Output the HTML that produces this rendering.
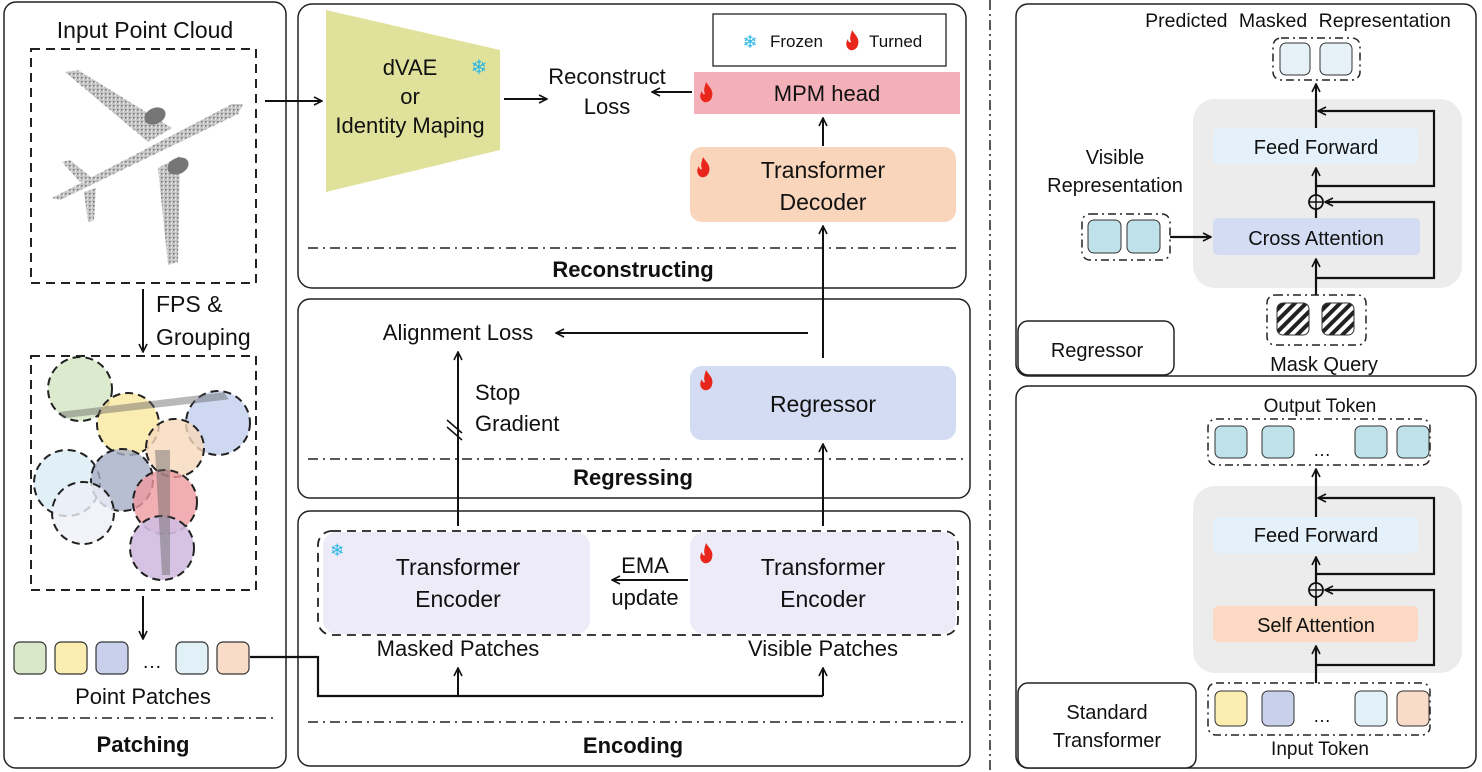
<!DOCTYPE html>
<html><head><meta charset="utf-8"><style>
html,body{margin:0;padding:0;background:#fff;}
svg{display:block;font-family:"Liberation Sans",sans-serif;}
</style></head><body>
<svg width="1482" height="772" viewBox="0 0 1482 772" xmlns="http://www.w3.org/2000/svg">
<defs>
<marker id="ah" markerWidth="10" markerHeight="10" refX="9" refY="5" orient="auto" markerUnits="userSpaceOnUse">
<path d="M1,1 L9,5 L1,9" fill="none" stroke="#111" stroke-width="1.6"/>
</marker>
<pattern id="hatch" width="8" height="8" patternUnits="userSpaceOnUse" patternTransform="rotate(45)">
<rect width="8" height="8" fill="#fff"/><rect width="4" height="8" fill="#222"/>
</pattern>
<pattern id="stip" width="4" height="4" patternUnits="userSpaceOnUse">
<rect width="4" height="4" fill="#b8b8b8"/><rect x="1" y="1" width="1.5" height="1.5" fill="#555"/><rect x="3" y="2.5" width="1" height="1" fill="#fff"/>
</pattern>
<g id="flame"><path d="M6,0 C9,5 14,8 12,15 C11,19 7,21 4,20 C0,18 -1,13 2,9 C2,12 4,13 5,12 C3,8 5,4 6,0Z" fill="#e8261c"/></g>
</defs>
<g fill="none" stroke="#222" stroke-width="1.5">
<rect x="4" y="2" width="282" height="766" rx="12"/>
<rect x="298" y="4" width="668" height="284" rx="14"/>
<rect x="298" y="299" width="672" height="199" rx="12"/>
<rect x="298" y="511" width="672" height="255" rx="12"/>
<rect x="1016" y="4" width="460" height="372" rx="12"/>
<rect x="1016" y="386" width="460" height="382" rx="12"/>
</g>
<line x1="990" y1="0" x2="990" y2="772" stroke="#222" stroke-width="1.5" stroke-dasharray="10,4,2,4"/>
<g stroke="#222" stroke-width="1.5" stroke-dasharray="10,5,2,5">
<line x1="14" y1="718" x2="276" y2="718"/>
<line x1="308" y1="248" x2="960" y2="248"/>
<line x1="308" y1="459" x2="964" y2="459"/>
<line x1="308" y1="722" x2="964" y2="722"/>
</g>
<!-- Left panel -->
<text x="145" y="38" font-size="23" text-anchor="middle" fill="#111">Input Point Cloud</text>
<rect x="31" y="49" width="225" height="234" fill="none" stroke="#222" stroke-width="2" stroke-dasharray="9,6"/>
<g fill="url(#stip)" opacity="0.8">
<path d="M52,198 L232,104 L243,104 L238,114 L60,200 Z"/>
<path d="M148,142 L65,72 L78,70 L172,128 Z"/>
<path d="M158,168 L168,265 L178,262 L180,156 Z"/>
<path d="M80,182 L62,162 L70,160 L92,178 Z"/>
<path d="M84,192 L88,222 L94,220 L96,188 Z"/>
<ellipse cx="155" cy="116" rx="11" ry="8" fill="#555" transform="rotate(-25 155 116)"/>
<ellipse cx="178" cy="166" rx="11" ry="8" fill="#555" transform="rotate(-25 178 166)"/>
</g>
<line x1="143" y1="289" x2="143" y2="352" stroke="#111" stroke-width="2" marker-end="url(#ah)"/>
<text x="156" y="312" font-size="23" fill="#111">FPS &amp;</text>
<text x="156" y="345" font-size="23" fill="#111">Grouping</text>
<rect x="31" y="356" width="225" height="234" fill="none" stroke="#222" stroke-width="2" stroke-dasharray="9,6"/>
<g stroke="#222" stroke-width="2" stroke-dasharray="8,5">
<circle cx="80" cy="389" r="32" fill="#d6e6c6" fill-opacity="0.85"/>
<circle cx="218" cy="423" r="32" fill="#c6d2ee" fill-opacity="0.85"/>
<circle cx="128" cy="424" r="31" fill="#faeaa4" fill-opacity="0.85"/>
<circle cx="175" cy="448" r="29" fill="#f8d8bc" fill-opacity="0.8"/>
<circle cx="67" cy="483" r="33" fill="#dcecf6" fill-opacity="0.85"/>
<circle cx="122" cy="480" r="31" fill="#a6aec6" fill-opacity="0.8"/>
<circle cx="83" cy="513" r="31" fill="#eef0f8" fill-opacity="0.8"/>
<circle cx="165" cy="502" r="32" fill="#ee9aa0" fill-opacity="0.8"/>
<circle cx="162" cy="548" r="32" fill="#d2bce0" fill-opacity="0.9"/>
</g>
<g fill="#666" opacity="0.45">
<path d="M60,395 L225,410 L228,418 L62,402 Z" transform="rotate(-12 140 405)"/>
<path d="M155,450 L162,575 L170,575 L170,450 Z"/>
</g>
<line x1="143" y1="596" x2="143" y2="639" stroke="#111" stroke-width="2" marker-end="url(#ah)"/>
<g stroke="#333" stroke-width="1.2">
<rect x="14" y="642" width="32" height="32" rx="6" fill="#d8e8c8"/>
<rect x="55" y="642" width="32" height="32" rx="6" fill="#fbeeb0"/>
<rect x="96" y="642" width="32" height="32" rx="6" fill="#c8d0ec"/>
<rect x="176" y="642" width="32" height="32" rx="6" fill="#e2f0f8"/>
<rect x="217" y="642" width="32" height="32" rx="6" fill="#f9dcc8"/>
</g>
<text x="152" y="668" font-size="20" text-anchor="middle" fill="#111">…</text>
<text x="143" y="704" font-size="22" text-anchor="middle" fill="#111">Point Patches</text>
<text x="143" y="752" font-size="22" font-weight="bold" text-anchor="middle" fill="#111">Patching</text>
<!-- Reconstructing -->
<polygon points="326,10 500,50 500,150 326,192" fill="#e0e29c"/>
<text x="410" y="75" font-size="22" text-anchor="middle" fill="#111">dVAE</text>
<text x="410" y="104" font-size="22" text-anchor="middle" fill="#111">or</text>
<text x="410" y="133" font-size="22" text-anchor="middle" fill="#111">Identity Maping</text>
<text x="479" y="74" font-size="20" text-anchor="middle" fill="#29b6e6">❄</text>
<line x1="265" y1="101" x2="322" y2="101" stroke="#111" stroke-width="2" marker-end="url(#ah)"/>
<line x1="504" y1="99" x2="547" y2="99" stroke="#111" stroke-width="2" marker-end="url(#ah)"/>
<text x="607" y="84" font-size="22" text-anchor="middle" fill="#111">Reconstruct</text>
<text x="607" y="114" font-size="22" text-anchor="middle" fill="#111">Loss</text>
<line x1="692" y1="92" x2="652" y2="92" stroke="#111" stroke-width="2" marker-end="url(#ah)"/>
<rect x="694" y="72" width="266" height="42" fill="#f4b0b8"/>
<use href="#flame" x="700" y="82"/>
<text x="827" y="101" font-size="22" text-anchor="middle" fill="#111">MPM head</text>
<rect x="713" y="14" width="233" height="52" fill="#fff" stroke="#222" stroke-width="1.3"/>
<text x="750" y="48" font-size="18" text-anchor="middle" fill="#29b6e6">❄</text>
<text x="770" y="47" font-size="17" fill="#111">Frozen</text>
<use href="#flame" x="846" y="30"/>
<text x="869" y="47" font-size="17" fill="#111">Turned</text>
<line x1="823" y1="146" x2="823" y2="118" stroke="#111" stroke-width="2" marker-end="url(#ah)"/>
<rect x="690" y="147" width="266" height="75" rx="12" fill="#f9d5bb"/>
<use href="#flame" x="697" y="157"/>
<text x="823" y="178" font-size="23" text-anchor="middle" fill="#111">Transformer</text>
<text x="823" y="210" font-size="23" text-anchor="middle" fill="#111">Decoder</text>
<text x="633" y="277" font-size="22" font-weight="bold" text-anchor="middle" fill="#111">Reconstructing</text>
<!-- Regressing -->
<text x="458" y="340" font-size="22" text-anchor="middle" fill="#111">Alignment Loss</text>
<line x1="808" y1="333" x2="556" y2="333" stroke="#111" stroke-width="2" marker-end="url(#ah)"/>
<line x1="823" y1="358" x2="823" y2="226" stroke="#111" stroke-width="2" marker-end="url(#ah)"/>
<rect x="690" y="366" width="266" height="74" rx="12" fill="#d3dcf2"/>
<use href="#flame" x="700" y="370"/>
<text x="823" y="412" font-size="23" text-anchor="middle" fill="#111">Regressor</text>
<line x1="458" y1="526" x2="458" y2="352" stroke="#111" stroke-width="2" marker-end="url(#ah)"/>
<line x1="447" y1="420" x2="462" y2="433" stroke="#111" stroke-width="1.5"/>
<line x1="447" y1="427" x2="462" y2="440" stroke="#111" stroke-width="1.5"/>
<text x="475" y="400" font-size="22" fill="#111">Stop</text>
<text x="475" y="431" font-size="22" fill="#111">Gradient</text>
<line x1="823" y1="526" x2="823" y2="444" stroke="#111" stroke-width="2" marker-end="url(#ah)"/>
<text x="633" y="485" font-size="22" font-weight="bold" text-anchor="middle" fill="#111">Regressing</text>
<!-- Encoding -->
<rect x="323" y="532" width="267" height="102" rx="14" fill="#ecebf7"/>
<rect x="690" y="532" width="266" height="102" rx="14" fill="#ecebf7"/>
<rect x="318" y="531" width="640" height="104" rx="14" fill="none" stroke="#222" stroke-width="1.8" stroke-dasharray="9,6"/>
<text x="330" y="556" font-size="17" fill="#29b6e6">❄</text>
<use href="#flame" x="700" y="543"/>
<text x="458" y="575" font-size="23" text-anchor="middle" fill="#111">Transformer</text>
<text x="458" y="607" font-size="23" text-anchor="middle" fill="#111">Encoder</text>
<text x="823" y="575" font-size="23" text-anchor="middle" fill="#111">Transformer</text>
<text x="823" y="607" font-size="23" text-anchor="middle" fill="#111">Encoder</text>
<line x1="688" y1="580" x2="612" y2="580" stroke="#111" stroke-width="2" marker-end="url(#ah)"/>
<text x="645" y="573" font-size="22" text-anchor="middle" fill="#111">EMA</text>
<text x="645" y="605" font-size="22" text-anchor="middle" fill="#111">update</text>
<text x="458" y="656" font-size="22" text-anchor="middle" fill="#111">Masked Patches</text>
<text x="823" y="656" font-size="22" text-anchor="middle" fill="#111">Visible Patches</text>
<polyline points="250,657 318,657 318,696 823,696" fill="none" stroke="#111" stroke-width="2.2"/>
<line x1="458" y1="696" x2="458" y2="668" stroke="#111" stroke-width="2" marker-end="url(#ah)"/>
<line x1="823" y1="696" x2="823" y2="668" stroke="#111" stroke-width="2" marker-end="url(#ah)"/>
<text x="633" y="753" font-size="22" font-weight="bold" text-anchor="middle" fill="#111">Encoding</text>
<!-- Regressor detail -->
<text x="1298" y="27" font-size="19.5" text-anchor="middle" word-spacing="6" fill="#111">Predicted Masked Representation</text>
<rect x="1273" y="38" width="87" height="42" rx="8" fill="none" stroke="#222" stroke-width="1.5" stroke-dasharray="8,4,2,4"/>
<rect x="1280" y="43" width="30" height="32" rx="6" fill="#e6f2f8" stroke="#333"/>
<rect x="1320" y="43" width="32" height="32" rx="6" fill="#e6f2f8" stroke="#333"/>
<rect x="1193" y="99" width="269" height="189" rx="22" fill="#ececec"/>
<rect x="1213" y="128" width="205" height="36" rx="5" fill="#e4f1fa"/>
<text x="1316" y="154" font-size="20" text-anchor="middle" fill="#111">Feed Forward</text>
<rect x="1213" y="218" width="207" height="37" rx="5" fill="#d3dcf2"/>
<text x="1316" y="245" font-size="20" text-anchor="middle" fill="#111">Cross Attention</text>
<g stroke="#111" stroke-width="2.2" fill="none">
<line x1="1316" y1="295" x2="1316" y2="259" marker-end="url(#ah)"/>
<line x1="1316" y1="218" x2="1316" y2="209"/>
<line x1="1316" y1="195" x2="1316" y2="168" marker-end="url(#ah)"/>
<line x1="1316" y1="128" x2="1316" y2="84" marker-end="url(#ah)"/>
<polyline points="1316,278 1434,278 1434,202 1325,202" marker-end="url(#ah)"/>
<polyline points="1316,186 1434,186 1434,111 1318,111" marker-end="url(#ah)"/>
<circle cx="1316" cy="202" r="7" stroke-width="1.8"/>
<line x1="1309" y1="202" x2="1323" y2="202" stroke-width="1.5"/>
<line x1="1316" y1="195" x2="1316" y2="209" stroke-width="1.5"/>
<line x1="1170" y1="237" x2="1211" y2="237" marker-end="url(#ah)"/>
</g>
<text x="1115" y="164" font-size="20" text-anchor="middle" fill="#111">Visible</text>
<text x="1115" y="192" font-size="20" text-anchor="middle" fill="#111">Representation</text>
<rect x="1082" y="214" width="88" height="46" rx="8" fill="none" stroke="#222" stroke-width="1.5" stroke-dasharray="8,4,2,4"/>
<rect x="1088" y="220" width="33" height="33" rx="6" fill="#bfe2ea" stroke="#333"/>
<rect x="1127" y="220" width="33" height="33" rx="6" fill="#bfe2ea" stroke="#333"/>
<rect x="1267" y="295" width="99" height="50" rx="8" fill="none" stroke="#222" stroke-width="1.5" stroke-dasharray="8,4,2,4"/>
<rect x="1277" y="303" width="32" height="32" rx="6" fill="url(#hatch)" stroke="#333"/>
<rect x="1322" y="303" width="32" height="32" rx="6" fill="url(#hatch)" stroke="#333"/>
<text x="1324" y="371" font-size="20" text-anchor="middle" fill="#111">Mask Query</text>
<rect x="1018" y="321" width="156" height="54" rx="10" fill="#fff" stroke="#222" stroke-width="1.5"/>
<text x="1097" y="357" font-size="20" text-anchor="middle" fill="#111">Regressor</text>
<!-- Standard transformer -->
<text x="1320" y="412" font-size="19" text-anchor="middle" fill="#111">Output Token</text>
<rect x="1208" y="419" width="222" height="46" rx="8" fill="none" stroke="#222" stroke-width="1.5" stroke-dasharray="8,4,2,4"/>
<g stroke="#333" fill="#bfe2ea">
<rect x="1215" y="426" width="32" height="32" rx="6"/>
<rect x="1262" y="426" width="32" height="32" rx="6"/>
<rect x="1355" y="426" width="32" height="32" rx="6"/>
<rect x="1397" y="426" width="32" height="32" rx="6"/>
</g>
<text x="1322" y="456" font-size="18" text-anchor="middle" fill="#111">…</text>
<rect x="1193" y="486" width="269" height="187" rx="22" fill="#ececec"/>
<rect x="1213" y="517" width="205" height="36" rx="5" fill="#e4f1fa"/>
<text x="1316" y="542" font-size="20" text-anchor="middle" fill="#111">Feed Forward</text>
<rect x="1213" y="606" width="205" height="36" rx="5" fill="#fbd9c2"/>
<text x="1316" y="632" font-size="20" text-anchor="middle" fill="#111">Self Attention</text>
<g stroke="#111" stroke-width="2.2" fill="none">
<line x1="1316" y1="683" x2="1316" y2="646" marker-end="url(#ah)"/>
<line x1="1316" y1="606" x2="1316" y2="597"/>
<line x1="1316" y1="583" x2="1316" y2="557" marker-end="url(#ah)"/>
<line x1="1316" y1="517" x2="1316" y2="469" marker-end="url(#ah)"/>
<polyline points="1316,665 1434,665 1434,590 1325,590" marker-end="url(#ah)"/>
<polyline points="1316,574 1434,574 1434,498 1318,498" marker-end="url(#ah)"/>
<circle cx="1316" cy="590" r="7" stroke-width="1.8"/>
<line x1="1309" y1="590" x2="1323" y2="590" stroke-width="1.5"/>
<line x1="1316" y1="583" x2="1316" y2="597" stroke-width="1.5"/>
</g>
<rect x="1208" y="683" width="222" height="52" rx="8" fill="none" stroke="#222" stroke-width="1.5" stroke-dasharray="8,4,2,4"/>
<g stroke="#333">
<rect x="1215" y="691" width="32" height="35" rx="6" fill="#fbeeb0"/>
<rect x="1262" y="691" width="32" height="35" rx="6" fill="#c8d0ec"/>
<rect x="1355" y="691" width="32" height="35" rx="6" fill="#e2f0f8"/>
<rect x="1397" y="691" width="32" height="35" rx="6" fill="#f9dcc8"/>
</g>
<text x="1322" y="722" font-size="18" text-anchor="middle" fill="#111">…</text>
<text x="1320" y="755" font-size="19" text-anchor="middle" fill="#111">Input Token</text>
<rect x="1018" y="683" width="178" height="85" rx="10" fill="#fff" stroke="#222" stroke-width="1.5"/>
<text x="1107" y="719" font-size="20" text-anchor="middle" fill="#111">Standard</text>
<text x="1107" y="747" font-size="20" text-anchor="middle" fill="#111">Transformer</text>
</svg>
</body></html>
